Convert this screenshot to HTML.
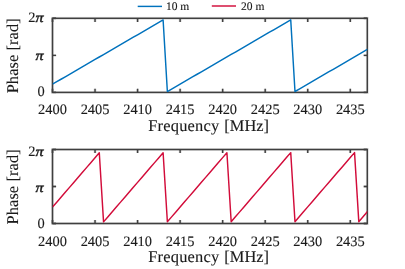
<!DOCTYPE html>
<html><head><meta charset="utf-8"><style>
html,body{margin:0;padding:0;background:#fff;}
svg{display:block;}
text{text-rendering:geometricPrecision;font-family:"Liberation Serif",serif;fill:#1a1a1a;stroke:#1a1a1a;stroke-width:0.12px;}
.tk{font-size:14.4px;}
.lb{font-size:16.4px;}
.pi{font-style:italic;stroke-width:0.4px;}
.lg{font-size:11.5px;stroke-width:0.12px;}
</style></head><body>
<svg width="405" height="269" viewBox="0 0 405 269">
<clipPath id="clip18"><rect x="52.5" y="18.3" width="314.8" height="74.10"/></clipPath>
<path d="M52.50,92.4v-3.6M52.50,18.3v3.6M95.04,92.4v-3.6M95.04,18.3v3.6M137.58,92.4v-3.6M137.58,18.3v3.6M180.12,92.4v-3.6M180.12,18.3v3.6M222.66,92.4v-3.6M222.66,18.3v3.6M265.20,92.4v-3.6M265.20,18.3v3.6M307.74,92.4v-3.6M307.74,18.3v3.6M350.28,92.4v-3.6M350.28,18.3v3.6M52.5,92.40h3.6M367.3,92.40h-3.6M52.5,55.35h3.6M367.3,55.35h-3.6M52.5,18.30h3.6M367.3,18.30h-3.6" stroke="#000" stroke-opacity="0.15" stroke-width="2.8" fill="none"/>
<rect x="52.5" y="18.3" width="314.8" height="74.10" fill="none" stroke="#000" stroke-opacity="0.15" stroke-width="2.8"/>
<path d="M52.50,92.4v-3.6M52.50,18.3v3.6M95.04,92.4v-3.6M95.04,18.3v3.6M137.58,92.4v-3.6M137.58,18.3v3.6M180.12,92.4v-3.6M180.12,18.3v3.6M222.66,92.4v-3.6M222.66,18.3v3.6M265.20,92.4v-3.6M265.20,18.3v3.6M307.74,92.4v-3.6M307.74,18.3v3.6M350.28,92.4v-3.6M350.28,18.3v3.6M52.5,92.40h3.6M367.3,92.40h-3.6M52.5,55.35h3.6M367.3,55.35h-3.6M52.5,18.30h3.6M367.3,18.30h-3.6" stroke="#3f3f3f" stroke-width="1.4" fill="none"/>
<rect x="52.5" y="18.3" width="314.8" height="74.10" fill="none" stroke="#3f3f3f" stroke-width="1.4"/>
<polyline clip-path="url(#clip18)" points="52.50,84.19 56.75,81.72 61.01,79.25 65.26,76.78 69.52,74.31 73.77,71.83 78.02,69.36 82.28,66.89 86.53,64.42 90.79,61.95 95.04,59.48 99.29,57.00 103.55,54.53 107.80,52.06 112.06,49.59 116.31,47.12 120.56,44.64 124.82,42.17 129.07,39.70 133.33,37.23 137.58,34.76 141.84,32.29 146.09,29.81 150.34,27.34 154.60,24.87 158.85,22.40 163.11,19.93 167.36,91.56 171.61,89.08 175.87,86.61 180.12,84.14 184.38,81.67 188.63,79.20 192.88,76.73 197.14,74.25 201.39,71.78 205.65,69.31 209.90,66.84 214.15,64.37 218.41,61.90 222.66,59.42 226.92,56.95 231.17,54.48 235.42,52.01 239.68,49.54 243.93,47.07 248.19,44.59 252.44,42.12 256.69,39.65 260.95,37.18 265.20,34.71 269.46,32.24 273.71,29.76 277.96,27.29 282.22,24.82 286.47,22.35 290.73,19.88 294.98,91.50 299.24,89.03 303.49,86.56 307.74,84.09 312.00,81.62 316.25,79.15 320.51,76.67 324.76,74.20 329.01,71.73 333.27,69.26 337.52,66.79 341.78,64.32 346.03,61.84 350.28,59.37 354.54,56.90 358.79,54.43 363.05,51.96 367.30,49.49 371.55,47.01 375.81,44.54 380.06,42.07 384.32,39.60 388.57,37.13 392.82,34.66" fill="none" stroke="#0072bd" stroke-width="1.45" stroke-linejoin="round"/>
<text x="52.50" y="114.20" text-anchor="middle" class="tk">2400</text>
<text x="95.04" y="114.20" text-anchor="middle" class="tk">2405</text>
<text x="137.58" y="114.20" text-anchor="middle" class="tk">2410</text>
<text x="180.12" y="114.20" text-anchor="middle" class="tk">2415</text>
<text x="222.66" y="114.20" text-anchor="middle" class="tk">2420</text>
<text x="265.20" y="114.20" text-anchor="middle" class="tk">2425</text>
<text x="307.74" y="114.20" text-anchor="middle" class="tk">2430</text>
<text x="350.28" y="114.20" text-anchor="middle" class="tk">2435</text>
<text x="44.60" y="96.40" text-anchor="end" class="tk">0</text>
<text transform="translate(43.50,60.30) scale(1.12,0.95)" text-anchor="end" class="tk pi">π</text>
<text transform="translate(43.50,21.80) scale(1.12,0.95)" text-anchor="end" class="tk pi">π</text>
<text x="35.50" y="21.80" text-anchor="end" class="tk">2</text>
<text x="148.3" y="131.4" textLength="70.8" lengthAdjust="spacing" class="lb">Frequency</text>
<text x="224.35" y="131.4" class="lb">[MHz]</text>
<text transform="translate(18.0,93.35) rotate(-90)" textLength="75.1" lengthAdjust="spacing" class="lb">Phase [rad]</text>
<clipPath id="clip149"><rect x="52.5" y="149.5" width="314.8" height="74.00"/></clipPath>
<path d="M52.50,223.5v-3.6M52.50,149.5v3.6M95.04,223.5v-3.6M95.04,149.5v3.6M137.58,223.5v-3.6M137.58,149.5v3.6M180.12,223.5v-3.6M180.12,149.5v3.6M222.66,223.5v-3.6M222.66,149.5v3.6M265.20,223.5v-3.6M265.20,149.5v3.6M307.74,223.5v-3.6M307.74,149.5v3.6M350.28,223.5v-3.6M350.28,149.5v3.6M52.5,223.50h3.6M367.3,223.50h-3.6M52.5,186.50h3.6M367.3,186.50h-3.6M52.5,149.50h3.6M367.3,149.50h-3.6" stroke="#000" stroke-opacity="0.15" stroke-width="2.8" fill="none"/>
<rect x="52.5" y="149.5" width="314.8" height="74.00" fill="none" stroke="#000" stroke-opacity="0.15" stroke-width="2.8"/>
<path d="M52.50,223.5v-3.6M52.50,149.5v3.6M95.04,223.5v-3.6M95.04,149.5v3.6M137.58,223.5v-3.6M137.58,149.5v3.6M180.12,223.5v-3.6M180.12,149.5v3.6M222.66,223.5v-3.6M222.66,149.5v3.6M265.20,223.5v-3.6M265.20,149.5v3.6M307.74,223.5v-3.6M307.74,149.5v3.6M350.28,223.5v-3.6M350.28,149.5v3.6M52.5,223.50h3.6M367.3,223.50h-3.6M52.5,186.50h3.6M367.3,186.50h-3.6M52.5,149.50h3.6M367.3,149.50h-3.6" stroke="#3f3f3f" stroke-width="1.4" fill="none"/>
<rect x="52.5" y="149.5" width="314.8" height="74.00" fill="none" stroke="#3f3f3f" stroke-width="1.4"/>
<polyline clip-path="url(#clip149)" points="52.50,207.11 56.75,202.17 61.01,197.23 65.26,192.30 69.52,187.36 73.77,182.42 78.02,177.49 82.28,172.55 86.53,167.61 90.79,162.68 95.04,157.74 99.29,152.80 103.55,221.87 107.80,216.93 112.06,211.99 116.31,207.06 120.56,202.12 124.82,197.18 129.07,192.25 133.33,187.31 137.58,182.37 141.84,177.43 146.09,172.50 150.34,167.56 154.60,162.62 158.85,157.69 163.11,152.75 167.36,221.81 171.61,216.88 175.87,211.94 180.12,207.00 184.38,202.07 188.63,197.13 192.88,192.19 197.14,187.26 201.39,182.32 205.65,177.38 209.90,172.45 214.15,167.51 218.41,162.57 222.66,157.64 226.92,152.70 231.17,221.76 235.42,216.83 239.68,211.89 243.93,206.95 248.19,202.02 252.44,197.08 256.69,192.14 260.95,187.21 265.20,182.27 269.46,177.33 273.71,172.40 277.96,167.46 282.22,162.52 286.47,157.59 290.73,152.65 294.98,221.71 299.24,216.78 303.49,211.84 307.74,206.90 312.00,201.97 316.25,197.03 320.51,192.09 324.76,187.15 329.01,182.22 333.27,177.28 337.52,172.34 341.78,167.41 346.03,162.47 350.28,157.53 354.54,152.60 358.79,221.66 363.05,216.72 367.30,211.79 371.55,206.85 375.81,201.91 380.06,196.98 384.32,192.04 388.57,187.10 392.82,182.17" fill="none" stroke="#d20c3a" stroke-width="1.45" stroke-linejoin="round"/>
<text x="52.50" y="245.75" text-anchor="middle" class="tk">2400</text>
<text x="95.04" y="245.75" text-anchor="middle" class="tk">2405</text>
<text x="137.58" y="245.75" text-anchor="middle" class="tk">2410</text>
<text x="180.12" y="245.75" text-anchor="middle" class="tk">2415</text>
<text x="222.66" y="245.75" text-anchor="middle" class="tk">2420</text>
<text x="265.20" y="245.75" text-anchor="middle" class="tk">2425</text>
<text x="307.74" y="245.75" text-anchor="middle" class="tk">2430</text>
<text x="350.28" y="245.75" text-anchor="middle" class="tk">2435</text>
<text x="44.60" y="228.35" text-anchor="end" class="tk">0</text>
<text transform="translate(43.50,191.60) scale(1.12,0.95)" text-anchor="end" class="tk pi">π</text>
<text transform="translate(43.50,155.60) scale(1.12,0.95)" text-anchor="end" class="tk pi">π</text>
<text x="35.50" y="155.60" text-anchor="end" class="tk">2</text>
<text x="148.3" y="262.25" textLength="70.8" lengthAdjust="spacing" class="lb">Frequency</text>
<text x="224.35" y="262.25" class="lb">[MHz]</text>
<text transform="translate(18.0,224.45) rotate(-90)" textLength="75.1" lengthAdjust="spacing" class="lb">Phase [rad]</text>
<line x1="137.7" y1="6.4" x2="162" y2="6.4" stroke="#0072bd" stroke-width="1.45"/>
<text x="165.9" y="9.65" class="lg">10 m</text>
<line x1="211.8" y1="6.0" x2="236" y2="6.0" stroke="#d20c3a" stroke-width="1.45"/>
<text x="241.0" y="9.65" class="lg">20 m</text>
</svg>
</body></html>
